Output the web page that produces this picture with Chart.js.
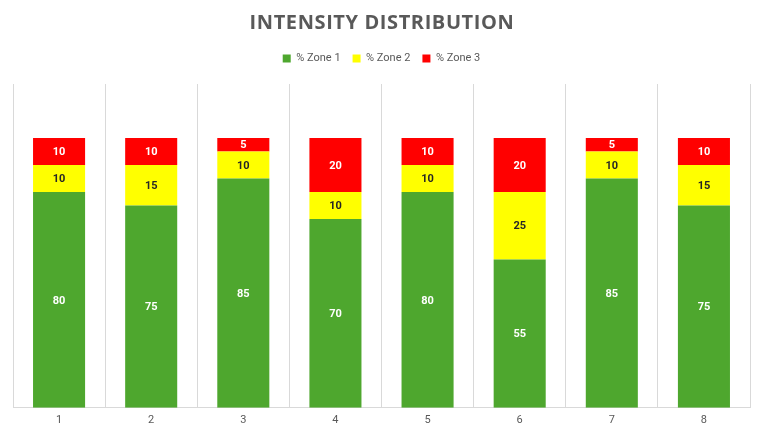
<!DOCTYPE html>
<html>
<head>
<meta charset="utf-8">
<script src="https://cdn.jsdelivr.net/npm/chart.js@4"></script>
<style>
  html, body { margin: 0; padding: 0; background: #fff; }
  #wrap { width: 762px; height: 433px; }
</style>
</head>
<body>
<div id="wrap"><canvas id="intensityChart"></canvas></div>
<script>
// Chart data
const categories = ['1', '2', '3', '4', '5', '6', '7', '8'];
const zone1 = [80, 75, 85, 70, 80, 55, 85, 75];
const zone2 = [10, 15, 10, 10, 10, 25, 10, 15];
const zone3 = [10, 10, 5, 20, 10, 20, 5, 10];
const seriesNames = ['% Zone 1', '% Zone 2', '% Zone 3'];
const chartTitle = 'INTENSITY DISTRIBUTION';

const textGray = '#595959';

// Draw the spaced-out title at the top
const titlePlugin = {
    id: 'spacedTitle',
    afterDraw(chart) {
        const ctx = chart.ctx;
        ctx.save();
        ctx.font = 'bold 20px "Open Sans", Roboto, sans-serif';
        ctx.fillStyle = textGray;
        ctx.textAlign = 'center';
        ctx.textBaseline = 'middle';
        if ('letterSpacing' in ctx) ctx.letterSpacing = '0.6px';
        ctx.fillText(chartTitle, chart.width / 2 + 1, 23);
        ctx.restore();
    }
};

// Leave some room under the legend
const legendGap = {
    id: 'legendGap',
    beforeInit(chart) {
        const fit = chart.legend.fit;
        chart.legend.fit = function () {
            fit.bind(chart.legend)();
            this.height += 10;
        };
    }
};

// Values written in the middle of each bar segment
const labelPlugin = {
    id: 'segmentLabels',
    afterDatasetsDraw(chart) {
        const ctx = chart.ctx;
        ctx.save();
        ctx.font = 'bold 11px Roboto, "Open Sans", sans-serif';
        ctx.textAlign = 'center';
        ctx.textBaseline = 'middle';
        chart.data.datasets.forEach((ds, i) => {
            const meta = chart.getDatasetMeta(i);
            ctx.fillStyle = i === 1 ? '#262626' : '#ffffff';
            meta.data.forEach((bar, j) => {
                const mid = (bar.y + bar.base) / 2;
                ctx.fillText(ds.data[j], bar.x, mid + 1);
            });
        });
        ctx.restore();
    }
};

const ctx = document.getElementById('intensityChart').getContext('2d');
const intensityChart = new Chart(ctx, {
    type: 'bar',
    data: {
        labels: categories,
        datasets: [
            { label: seriesNames[0], data: zone1, backgroundColor: '#4ea72e' },
            { label: seriesNames[1], data: zone2, backgroundColor: '#ffff00' },
            { label: seriesNames[2], data: zone3, backgroundColor: '#ff0000' }
        ]
    },
    options: {
        responsive: true,
        maintainAspectRatio: false,
        animation: false,
        datasets: {
            bar: { barPercentage: 0.565, categoryPercentage: 1.0 }
        },
        layout: { padding: { top: 41, left: 13, right: 12, bottom: 0 } },
        plugins: {
            title: { display: false },
            tooltip: { enabled: false },
            legend: {
                position: 'top',
                labels: {
                    boxWidth: 8,
                    boxHeight: 8,
                    padding: 12,
                    color: textGray,
                    font: { size: 11, family: 'Roboto, "Open Sans", sans-serif' }
                }
            }
        },
        scales: {
            x: {
                stacked: true,
                grid: {
                    offset: true,
                    color: '#d9d9d9',
                    drawTicks: false
                },
                border: { color: '#d9d9d9' },
                ticks: {
                    color: textGray,
                    padding: 6,
                    font: { size: 11, family: 'Roboto, "Open Sans", sans-serif' }
                }
            },
            y: {
                stacked: true,
                display: false,
                min: 0,
                max: 120
            }
        }
    },
    plugins: [titlePlugin, legendGap, labelPlugin]
});
</script>
</body>
</html>
